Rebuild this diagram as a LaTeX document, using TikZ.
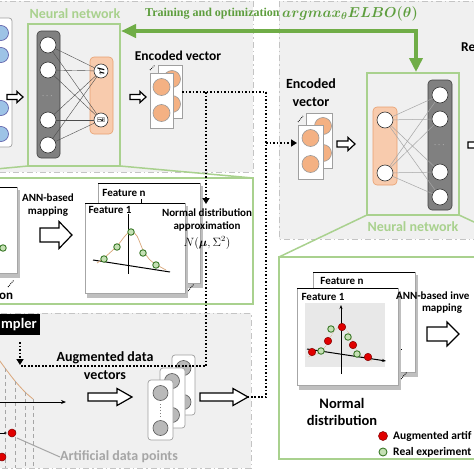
\documentclass[tikz,border=0pt]{standalone}
\usepackage{amsmath}
\usepackage{bm}
\usepackage{fontspec}
\setmainfont{Carlito}
\newfontfamily\ttlfont{Liberation Serif}
\usetikzlibrary{arrows.meta}
\definecolor{panelgray}{HTML}{F0F0F0}
\definecolor{dashgray}{HTML}{C4C4C4}
\definecolor{lgreen}{HTML}{A9D18E}
\definecolor{dgreen}{HTML}{70AD47}
\definecolor{tgreen}{HTML}{5E9E3E}
\definecolor{ofill}{HTML}{F8CBAD}
\definecolor{odraw}{HTML}{E8A070}
\definecolor{ocirc}{HTML}{F4B183}
\definecolor{nngray}{HTML}{808080}
\definecolor{bluec}{HTML}{9DC3E6}
\definecolor{tanc}{HTML}{D9A679}
\definecolor{redc}{HTML}{E00000}
\definecolor{gdot}{HTML}{C5E0B4}
\definecolor{gdotd}{HTML}{3C7A2A}
\definecolor{labgray}{HTML}{A6A6A6}
\newcommand{\elbotext}{\ensuremath{\bm{argmax_{\theta}ELBO(\theta)}}}
\newcommand{\blockarr}[6]{%
  \draw[harrow] (#1,#3-#4) -- (#2-#6,#3-#4) -- (#2-#6,#3-#5) -- (#2,#3) -- (#2-#6,#3+#5) -- (#2-#6,#3+#4) -- (#1,#3+#4) -- cycle;}
\newcommand{\fcard}[4]{%
  \fill[gray!50] (#1+2,#2+3) rectangle (#3+3,#4+5);
  \draw[card] (#1,#2) rectangle (#3,#4);
  \draw[line width=0.9pt] (#1,#2) -- (#3,#2);}
\begin{document}
\begin{tikzpicture}[x=1pt,y=-1pt,
  panel/.style={fill=panelgray, draw=dashgray, line width=1pt, dash pattern=on 6pt off 3pt on 1.5pt off 3pt},
  gbox/.style={draw=lgreen, line width=1.5pt},
  harrow/.style={draw=black, fill=white, line width=1.2pt, line join=miter},
  dotline/.style={line width=1.8pt, dash pattern=on 1.8pt off 1.7pt},
  dottip/.style={-{Triangle[length=6pt,width=7pt]}},
  card/.style={draw=gray!70, fill=white, line width=0.6pt},
  vcard/.style={draw=gray!75, fill=white, line width=0.7pt},
  ocircle/.style={circle, draw=gray!80, fill=ocirc, minimum size=17pt, inner sep=0pt, line width=0.6pt},
  wcirc/.style={circle, draw=gray!40!black, fill=white, minimum size=16pt, inner sep=0pt, line width=0.6pt},
  bcirc/.style={circle, draw=gray!70!blue, fill=bluec, minimum size=15pt, inner sep=0pt, line width=0.6pt},
  gcirc/.style={circle, draw=gray!70!black, fill=gray!55, minimum size=15pt, inner sep=0pt, line width=0.6pt},
  nnline/.style={draw=gray!60!black, line width=0.4pt},
  nnlight/.style={draw=gray!70, line width=0.5pt},
  gdotst/.style={circle, draw=gdotd, fill=gdot, minimum size=6.5pt, inner sep=0pt, line width=0.9pt},
  rdotst/.style={circle, draw=red!50!black, fill=redc, minimum size=8pt, inner sep=0pt, line width=0.5pt},
  lbl/.style={font=\bfseries\fontsize{13.5}{16}\selectfont, align=center, inner sep=0pt},
  slbl/.style={font=\bfseries\fontsize{11}{13}\selectfont, align=center, inner sep=0pt},
  nnlbl/.style={font=\bfseries\fontsize{14}{16}\selectfont, text=lgreen, inner sep=0pt},
]
\useasboundingbox (0,0) rectangle (474,474);
\clip (0,0) rectangle (474,474);
\fill[white] (0,0) rectangle (474,474);

% ---------- panels ----------
\draw[panel] (-5,1) rectangle (253,172);
\draw[panel] (279,1) rectangle (480,239);
\draw[panel] (-5,313) rectangle (251,468);

% ---------- magnification lines and green boxes ----------
\draw[gbox] (28,166) -- (-100,178);
\draw[gbox] (120,166) -- (253,178);
\draw[gbox] (367,215) -- (279,257);
\draw[gbox] (459,215) -- (549,257);
\draw[gbox, fill=white] (-5,178) rectangle (253,304);
\draw[gbox, fill=white] (279,257) rectangle (480,459);
\draw[gbox] (28,24) rectangle (120,166);
\draw[gbox] (367,73) rectangle (459,215);

% ---------- top-left panel ----------
\draw[vcard, rounded corners=3pt] (-20,18) rectangle (12,147);
\foreach \i/\yy in {1/33,2/55,3/108,4/134} \node[bcirc] (in\i) at (1,\yy) {};
\blockarr{7}{23}{97}{2.5}{5.5}{6}

\node[nnlbl] (nnlabL) at (75,14) {Neural network};
\draw[rounded corners=4pt, fill=nngray, draw=gray!50!black, line width=0.6pt] (37,31) rectangle (60,158);
\foreach \i/\yy in {1/45,2/70,3/120,4/145} \node[wcirc] (g\i) at (48,\yy) {};
\node[text=gray!25, font=\fontsize{9}{9}\selectfont] (gdots) at (48,96) {$\cdots$};
\draw[rounded corners=4pt, fill=ofill, draw=odraw, line width=0.6pt] (90,57) rectangle (113,134);
\node[wcirc, minimum size=14pt, rotate=-90, font=\fontsize{11}{11}\selectfont] (mu) at (101,71) {$\bm{\mu}$};
\node[wcirc, minimum size=14pt, rotate=-90, font=\fontsize{10}{10}\selectfont] (sig) at (101,120) {$\bm{\mathit{\Sigma}}$};
\foreach \i in {1,...,4} {\draw[nnline] (g\i) -- (mu); \draw[nnline] (g\i) -- (sig);}

\node[lbl] (encL) at (178,56) {Encoded vector};
\blockarr{130}{146}{97}{2.5}{5.5}{6}
\draw[densely dotted, line width=0.8pt] (150,70) -- (155,65);
\draw[vcard] (158,65) rectangle (182,118);
\node[ocircle] (eb1) at (172,79) {};
\node[ocircle] (eb2) at (172,104) {};
\draw[vcard] (150,73) rectangle (173,128);
\node[ocircle] (ef1) at (161.5,87) {};
\node[ocircle] (ef2) at (161.5,113) {};
\coordinate (encLout) at (182,92);

% ---------- title + training arrow ----------
\node[anchor=west, font=\ttlfont\bfseries\fontsize{12}{14}\selectfont, text=tgreen, inner sep=0pt] (title) at (145,14) {Training and optimization};
\node[anchor=west, text=tgreen, font=\fontsize{14}{15}\selectfont, inner sep=0pt] (elbo) at (282,14) {\elbotext};
\coordinate (trL) at (121,31);
\coordinate (trR) at (416,72);
\draw[dgreen, line width=4.2pt, line join=miter, {Triangle[length=15pt,width=13pt]}-{Triangle[length=14pt,width=13pt]}] (trL) -| (trR);

% ---------- top-right panel ----------
\node[lbl, font=\bfseries\fontsize{14}{18}\selectfont] (encR) at (311,93) {Encoded\\vector};
\draw[densely dotted, line width=0.8pt] (298,122) -- (303,116);
\draw[vcard] (306,113) rectangle (332,168);
\node[ocircle] (rb1) at (323,126) {};
\node[ocircle] (rb2) at (323,153) {};
\draw[vcard] (298,125) rectangle (323,179);
\node[ocircle] (rf1) at (310.5,138) {};
\node[ocircle] (rf2) at (310.5,164) {};
\coordinate (encRin) at (297,143);
\blockarr{337}{355}{144}{3}{6.5}{7}

\draw[rounded corners=4pt, fill=ofill, draw=odraw, line width=0.6pt] (373,107) rectangle (397,185);
\node[wcirc] (o1) at (385,120) {};
\node[wcirc] (o2) at (385,173) {};
\draw[rounded corners=4pt, fill=nngray, draw=gray!50!black, line width=0.6pt] (428,80) rectangle (452,210);
\foreach \i/\yy in {1/95,2/119,3/172,4/197} \node[wcirc] (h\i) at (440,\yy) {};
\node[text=gray!25, font=\fontsize{9}{9}\selectfont] (hdots) at (440,145) {$\cdots$};
\foreach \i in {1,...,4} {\draw[nnlight] (o1) -- (h\i); \draw[nnlight] (o2) -- (h\i);}
\node[nnlbl] (nnlabR) at (413,227) {Neural network};
\node[lbl, anchor=west] (reco) at (461,47) {Re};
\blockarr{468}{495}{145}{3}{6.5}{7}

% ---------- middle-left green box ----------
\fcard{-20}{187}{17}{273}
\node[gdotst] (gl) at (3,248) {};
\draw[densely dotted, line width=0.9pt] (8,287) -- (14,280);
\node[lbl, font=\bfseries\fontsize{13}{15}\selectfont, anchor=west] (onlab) at (-1,296) {on};

\node[slbl] (annmap) at (48,205.5) {ANN-based\\mapping};
\blockarr{40}{72}{235}{7}{13.5}{13}

\fcard{98}{183}{200}{283}
\node[slbl] (fnL) at (124,193) {Feature n};
\draw[line width=0.8pt] (141,199) -- (141,207);
\draw[densely dotted, line width=0.9pt] (188,291) -- (194,284);
\fcard{85}{203}{185}{293}
\node[slbl] (f1L) at (110,210) {Feature 1};
\draw[line width=1pt] (128,214) -- (128,274);
\draw[line width=1pt] (93,260) -- (170,272);
\draw[tanc, line width=0.7pt] plot[smooth] coordinates {(97,263) (104,258) (117,246) (125,236) (131,231) (137,236) (143,250) (150,260) (157,265) (166,270)};
\foreach \i/\xx/\yy in {1/104/259,2/117/247,3/131/232,4/143/253,5/156/265} \node[gdotst] (ga\i) at (\xx,\yy) {};

\node[slbl] (ndapp) at (207,219.5) {Normal distribution\\approximation};
\node[inner sep=0pt, font=\fontsize{12}{14}\selectfont] (nmu) at (207,243) {$N(\bm{\mu},\Sigma^2)$};

% ---------- bottom-left panel ----------
\fill[black] (-5,314) rectangle (40,335);
\node[anchor=east, text=white, font=\bfseries\fontsize{14.5}{16}\selectfont, inner sep=0pt] (sampler) at (37,324.5) {mpler};
\draw[tanc, line width=0.8pt] plot[smooth] coordinates {(-3,357) (5,368) (15,381) (25,392) (33,399)};
\foreach \xx/\yy in {5/368,15/381,25/392,33/399} \draw[labgray, line width=0.8pt, dash pattern=on 4pt off 3pt] (\xx,\yy) -- (\xx,468);
\draw[line width=0.9pt, -{Stealth[length=5pt,width=4pt]}] (-5,402) -- (66,402);
\draw[line width=0.7pt, -{Stealth[length=3pt]}] (-3,433) -- (7,433);
\node[rdotst] (rd1) at (12,433) {};
\node[rdotst] (rd2) at (2,457) {};
\node[font=\bfseries\fontsize{14}{16}\selectfont, text=labgray, inner sep=0pt] (artif) at (119,457) {Artificial data points};
\draw[labgray, line width=1pt] (17,438) -- (artif.west);

\node[lbl, font=\bfseries\fontsize{14}{18}\selectfont] (augv) at (105,366) {Augmented data\\vectors};
\blockarr{88}{132}{397}{4}{8.5}{15}
\draw[vcard, rounded corners=3pt] (172,355) rectangle (195,415);
\node[gcirc] (v31) at (183.5,368) {};
\node[gcirc] (v32) at (183.5,402) {};
\draw[vcard, rounded corners=3pt] (160,368) rectangle (185,428);
\node[gcirc] (v21) at (172,381) {};
\node[gcirc] (v22) at (172,415) {};
\draw[vcard, rounded corners=3pt] (148,380) rectangle (173,440);
\node[gcirc] (v11) at (160.5,393) {};
\node[gcirc] (v12) at (160.5,428) {};
\draw[gray, line width=0.8pt, dash pattern=on 1pt off 2pt] (160.5,404) -- (160.5,418);
\blockarr{200}{248}{397}{4}{8.5}{15}
\coordinate (augout) at (248,397);

% ---------- lower-right green box ----------
\fcard{313}{272}{415}{372}
\node[slbl] (fnR) at (342,281) {Feature n};
\draw[line width=0.8pt] (358,288) -- (358,295);
\draw[line width=0.8pt] (396,349) -- (402,349);
\draw[densely dotted, line width=0.9pt] (401,379) -- (407,372);
\fcard{297}{288}{398}{385}
\node[slbl] (f1R) at (323,297) {Feature 1};
\fill[gray!18] (305,303) rectangle (385,367);
\draw[tanc, line width=0.6pt, densely dotted] plot[smooth] coordinates {(308,357) (321,352) (328,342) (334,331) (342,326) (349,333) (354,345) (360,355) (372,361)};
\draw[line width=1pt, -{Stealth[length=4pt]}] (341,374) -- (341,305);
\draw[line width=1pt, -{Stealth[length=4pt]}] (307,349) -- (386,361);
\foreach \i/\xx/\yy in {1/312/352,2/328/341,3/342/327,4/353/345,5/368/357} \node[rdotst, minimum size=7.5pt] (rr\i) at (\xx,\yy) {};
\foreach \i/\xx/\yy in {1/321/351,2/331/329,3/348/337,4/357/354} \node[gdotst] (rg\i) at (\xx,\yy) {};
\node[slbl, anchor=west] (annInv) at (396,296) {ANN-based inve};
\node[slbl] (mapR) at (442,309) {mapping};
\blockarr{427}{459}{334}{7}{12}{12}
\node[lbl, font=\bfseries\fontsize{14.5}{17}\selectfont] (ndist) at (342,411.5) {Normal\\distribution};
\node[rdotst, minimum size=9pt] (legR) at (383,436) {};
\node[slbl, font=\bfseries\fontsize{11.5}{13}\selectfont, anchor=west] (legRt) at (393,436) {Augmented artif};
\node[gdotst, minimum size=8pt] (legG) at (383,452) {};
\node[slbl, font=\bfseries\fontsize{11.5}{13}\selectfont, anchor=west] (legGt) at (393,452) {Real experiment};

% ---------- dotted connectors ----------
\coordinate (jA) at (206,92);
\coordinate (jB) at (266,92);
\coordinate (jC) at (266,143);
\coordinate (jD) at (266,397);
\coordinate (ndTop) at (206,204);
\coordinate (ndBot) at (206,252);
\coordinate (kA) at (206,366);
\coordinate (kB) at (20,366);
\coordinate (smpOut) at (20,342);
\coordinate (smpIn) at (20,365);
\draw[dotline] (encLout) -- (jB);
\draw[dotline, dottip] (jA) -- (ndTop);
\draw[dotline] (ndBot) -- (kA) -- (kB);
\draw[dotline, dottip] (smpOut) -- (smpIn);
\draw[dotline] (jB) -- (jD) -- (augout);
\draw[dotline, dottip] (jC) -- (encRin);
\end{tikzpicture}
\end{document}
